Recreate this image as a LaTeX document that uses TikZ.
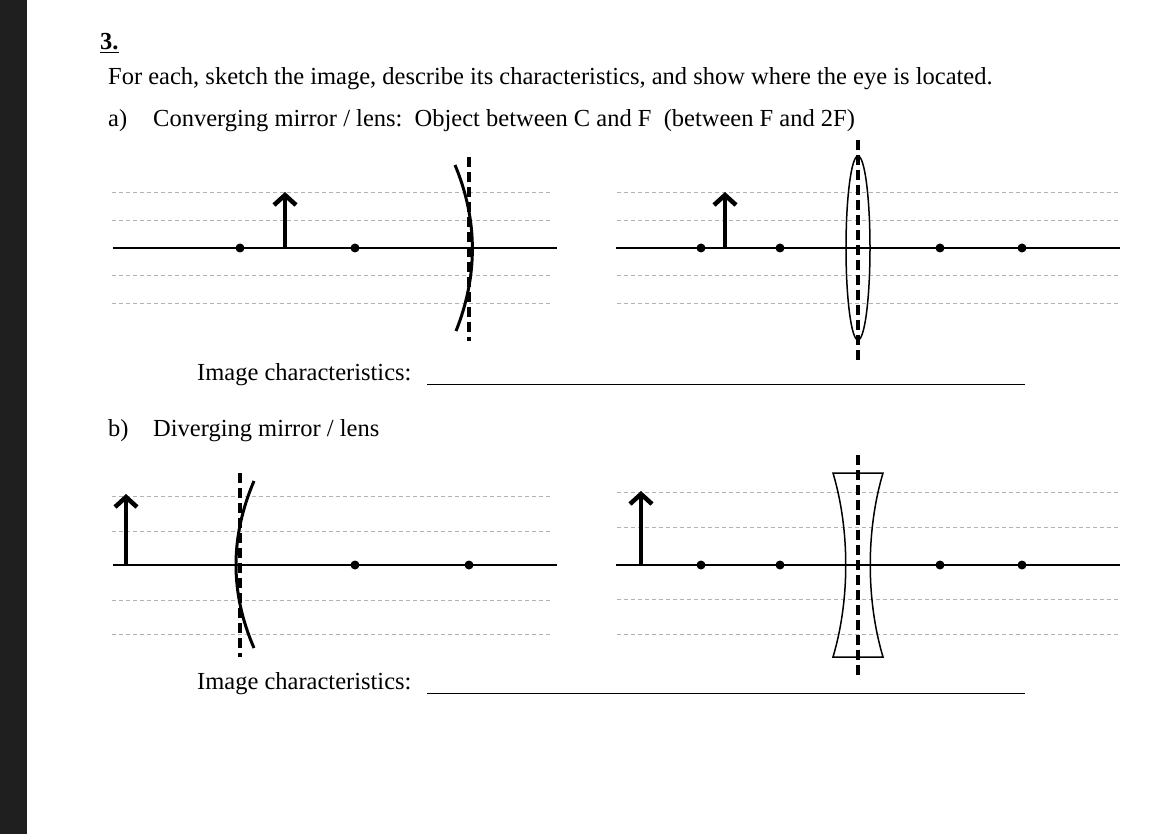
\documentclass[tikz,border=0pt]{standalone}
\usepackage{fontspec}
\setmainfont{Liberation Serif}
\usetikzlibrary{arrows.meta}
\begin{document}
\begin{tikzpicture}[x=1pt,y=-1pt,
  guide/.style={gray!60,dashed,line width=1pt,dash pattern=on 4pt off 3pt},
  axis/.style={line width=2pt},
  optaxis/.style={line width=4pt,dash pattern=on 10pt off 5pt},
  objarrow/.style={line width=4.5pt,-{Straight Barb[length=10pt,width=22pt,line width=4.5pt]}},
  mirror/.style={line width=3pt},
  lensline/.style={line width=1.5pt},
  dot/.style={circle,fill=black,inner sep=0pt,minimum size=9pt},
  txt/.style={inner sep=0pt,anchor=base west,font=\fontsize{24.5}{28}\selectfont}]
\useasboundingbox (0,0) rectangle (1170,834);
\fill[white] (0,0) rectangle (1170,834);
\fill[black!88] (0,0) rectangle (27,834);
\node[txt] (n3) at (100,50) {\textbf{\underline{3.}}};
\node[txt] (intro) at (108,85) {For each, sketch the image, describe its characteristics, and show where the eye is located.};
\node[txt] (la) at (108,127) {a)};
\node[txt] (ta) at (153,127) {Converging mirror / lens:\ \ Object between C and F\ \ (between F and 2F)};
\node[txt] (ica) at (197,380) {Image characteristics:};
\draw[line width=1pt] (427,384) -- (1025,384);
\node[txt] (lb) at (108,436) {b)};
\node[txt] (tb) at (153,436) {Diverging mirror / lens};
\node[txt] (icb) at (197,689) {Image characteristics:};
\draw[line width=1pt] (427,693) -- (1025,693);

% panel a left
\foreach \y in {193,221,276,304} \draw[guide] (112,\y) -- (553,\y);
\draw[axis] (113,248) -- (557,248);
\node[dot] (a1) at (240,248) {};
\node[dot] (a2) at (355,248) {};
\coordinate (ab) at (285,248); \coordinate (at) at (285,192);
\draw[objarrow] (ab) -- (at);
\draw[optaxis] (469,157) -- (469,341);
\draw[mirror] (455,165) .. controls (478,220) and (478,276) .. (456,331);

% panel a right
\foreach \y in {193,221,276,304} \draw[guide] (617,\y) -- (1118,\y);
\draw[axis] (616,248) -- (1120,248);
\node[dot] (b1) at (701,248) {};
\node[dot] (b2) at (780,248) {};
\node[dot] (b3) at (940,248) {};
\node[dot] (b4) at (1022,248) {};
\coordinate (bb) at (725,248); \coordinate (bt) at (725,192);
\draw[objarrow] (bb) -- (bt);
\draw[lensline] (858,248) ellipse [x radius=12,y radius=92];
\draw[optaxis] (858,140) -- (858,360);

% panel b left
\foreach \y in {496,531,600,634} \draw[guide] (112,\y) -- (553,\y);
\draw[axis] (113,565) -- (557,565);
\node[dot] (c1) at (355,565) {};
\node[dot] (c2) at (469,565) {};
\coordinate (cb) at (126,565); \coordinate (ct) at (126,494);
\draw[objarrow] (cb) -- (ct);
\draw[optaxis] (240,473) -- (240,657);
\draw[mirror] (254,481) .. controls (230,537) and (230,593) .. (254,648);

% panel b right
\foreach \y in {492,527,599,634} \draw[guide] (617,\y) -- (1118,\y);
\draw[axis] (616,565) -- (1120,565);
\node[dot] (d1) at (701,565) {};
\node[dot] (d2) at (780,565) {};
\node[dot] (d3) at (940,565) {};
\node[dot] (d4) at (1022,565) {};
\coordinate (db) at (641,565); \coordinate (dt) at (641,491);
\draw[objarrow] (db) -- (dt);
\draw[lensline] (833,473) -- (883,473) .. controls (866,530) and (866,600) .. (883,657)
  -- (833,657) .. controls (850,600) and (850,530) .. cycle;
\draw[optaxis] (858,455) -- (858,675);
\end{tikzpicture}
\end{document}
